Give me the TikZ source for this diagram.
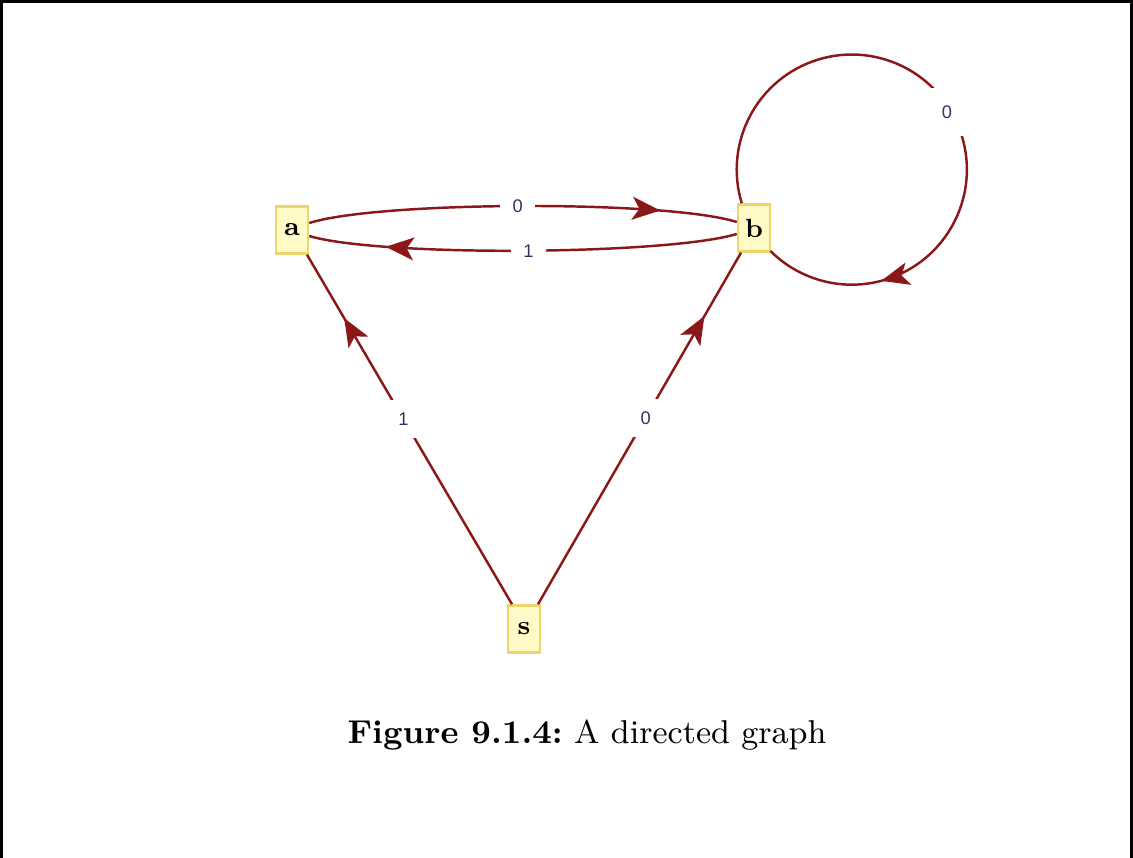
\documentclass[tikz,border=0pt]{standalone}
\usepackage{fontspec}
\newfontfamily\labelfont{Liberation Sans}
\usepackage{tikz}
\usetikzlibrary{arrows.meta,decorations.markings}

\definecolor{edgered}{RGB}{139,24,24}
\definecolor{boxfill}{RGB}{255,250,198}
\definecolor{boxline}{RGB}{238,212,108}
\definecolor{labelblue}{RGB}{50,50,100}

\tikzset{
	vertex/.style={rectangle,draw=boxline,fill=boxfill,line width=0.7pt,minimum width=0.32cm,minimum height=0.47cm,inner sep=0pt,font=\fontsize{7.5}{8}\selectfont\bfseries},
	edge/.style={color=edgered,line width=0.7pt,postaction={decorate},
		decoration={markings,mark=at position 0.82 with {\arrow{Stealth[length=8pt,width=6.5pt,inset=2pt]}}}},
	elabel/.style={fill=white,text=labelblue,inner sep=3.5pt,font=\labelfont\fontsize{5.2}{6}\selectfont},
}

\begin{document}
\begin{tikzpicture}[x=0.01cm,y=-0.01cm]
		\useasboundingbox (0,0) rectangle (1133,858);
%		\draw[help lines] (0,0) grid[step=100] (1133,858);
		\fill[black] (0,0) rectangle (3,858);
		\fill[black] (0,0) rectangle (1133,3);
		\fill[black] (1130,0) rectangle (1133,858);

		\path (292,230) node(a) [vertex] {a};
		\path (754,228) node(b) [vertex] {b};
		\path (524,629) node(s) [vertex] {s};

		\draw[edge] ([yshift=0.07cm]a.east) .. controls +(70,-22) and +(-70,-22) .. ([yshift=0.06cm]b.west)
			node(ab) [elabel,pos=0.49] {0};
		\draw[edge] ([yshift=-0.06cm]b.west) .. controls +(-70,21) and +(70,21) .. ([yshift=-0.06cm]a.east)
			node(ba) [elabel,pos=0.49] {1};
		\draw[edge] ([xshift=-0.12cm]s.north) -- ([xshift=0.15cm]a.south)
			node(sa) [elabel,pos=0.53] {1};
		\draw[edge] ([xshift=0.14cm]s.north) -- ([xshift=-0.13cm]b.south)
			node(sb) [elabel,pos=0.53] {0};
		\draw[edge] ([xshift=0.05cm]b.north west) arc[start angle=-163,end angle=-495,radius=1.15cm];
		\path (947,112) node(bb) [elabel,inner sep=5pt] {0};

		\path (587,735) node(caption) {\fontsize{9.4}{11}\selectfont\textbf{Figure 9.1.4:}\ A directed graph};
	\end{tikzpicture}
\end{document}
